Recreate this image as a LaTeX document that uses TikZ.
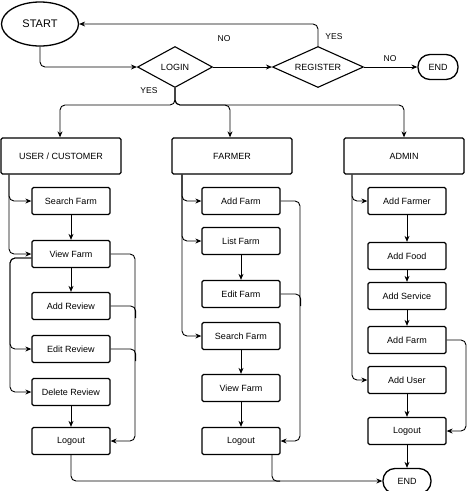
\documentclass[tikz,border=0pt]{standalone}
\usepackage{fontspec}
\setmainfont{Liberation Sans}
\usetikzlibrary{shapes.geometric, positioning, arrows.meta}

\begin{document}
\begin{tikzpicture}[
    x=1pt, y=-1pt,
    font=\fontsize{9}{10}\selectfont,
    terminal/.style={
        ellipse,
        draw,
        line width=1.3pt,
        minimum width=77pt,
        minimum height=44pt,
        inner sep=0pt,
        font=\fontsize{11}{12}\selectfont
    },
    endbox/.style={
        rectangle,
        rounded corners=12pt,
        draw,
        line width=1.3pt,
        minimum width=48pt,
        minimum height=25pt
    },
    decision/.style={
        diamond,
        draw,
        line width=1.1pt,
        shape aspect=2.2,
        minimum height=41pt,
        inner sep=0pt
    },
    role/.style={
        rectangle,
        rounded corners=1.5pt,
        draw,
        line width=1.3pt,
        minimum width=120pt,
        minimum height=36pt
    },
    task/.style={
        rectangle,
        rounded corners=1.5pt,
        draw,
        line width=1.3pt,
        minimum width=78pt,
        minimum height=27pt
    },
    lbl/.style={font=\fontsize{8.5}{9}\selectfont},
    link/.style={
        line width=0.9pt,
        rounded corners=5pt
    },
    flow/.style={
        link,
        -{Stealth[length=6pt,width=5pt]}
    }
]

\useasboundingbox (0,0) rectangle (474,491);

% ========== TOP ==========

\node[terminal] (start) at (40, 24) {START};
\node[decision, minimum width=75pt] (login) at (175, 67) {LOGIN};
\node[decision, minimum width=91pt] (register) at (318, 67) {REGISTER};
\node[endbox, minimum width=40pt] (endtop) at (438, 67) {END};

% ========== ROLES ==========

\node[role] (user) at (61, 156) {USER / CUSTOMER};
\node[role] (farmer) at (232, 156) {FARMER};
\node[role] (admin) at (404, 156) {ADMIN};

% ========== USER / CUSTOMER SECTION ==========

\node[task] (searchu) at (71, 201) {Search Farm};
\node[task] (viewu) at (71, 254) {View Farm};
\node[task] (addrev) at (71, 306) {Add Review};
\node[task] (editrev) at (71, 349) {Edit Review};
\node[task] (delrev) at (71, 392) {Delete Review};
\node[task] (logoutu) at (71, 441) {Logout};

% ========== FARMER SECTION ==========

\node[task] (addfarm) at (241, 201) {Add Farm};
\node[task] (listfarm) at (241, 241) {List Farm};
\node[task] (editfarm) at (241, 294) {Edit Farm};
\node[task] (searchf) at (241, 336) {Search Farm};
\node[task] (viewf) at (241, 388) {View Farm};
\node[task] (logoutf) at (241, 441) {Logout};

% ========== ADMIN SECTION ==========

\node[task] (addfarmer) at (407, 201) {Add Farmer};
\node[task] (addfood) at (407, 256) {Add Food};
\node[task] (addservice) at (407, 296) {Add Service};
\node[task] (addfarma) at (407, 340) {Add Farm};
\node[task] (adduser) at (407, 380) {Add User};
\node[task] (logouta) at (407, 431) {Logout};

\node[endbox] (endbot) at (407, 481) {END};

% ========== BEND POINTS ==========

\coordinate (split) at (175, 105);
\coordinate (ubendL) at (10, 258);
\coordinate (ubendR) at (135, 254);
\coordinate (fbendR) at (300, 201);
\coordinate (abendR) at (466, 340);

% ========== CONNECTIONS - TOP ==========

\draw[flow] (start.south) |- (login.west);
\draw[flow] (login.east) -- (register.west);
\draw[flow] (register.north) |- (start.east);
\draw[flow] (register.east) -- (endtop.west);

\node[lbl] (nologin) at (224, 39) {NO};
\node[lbl] (yesreg) at (334, 37) {YES};
\node[lbl] (noreg) at (390, 59) {NO};
\node[lbl] (yeslogin) at (149, 91) {YES};

\draw[flow] (login.south) -- (split) -| ([xshift=-1pt]user.north);
\draw[flow] (login.south) -- (split) -| ([xshift=-2pt]farmer.north);
\draw[flow] (login.south) -- (split) -| (admin.north);

% ========== CONNECTIONS - USER / CUSTOMER ==========

\draw[flow] ([xshift=-52pt]user.south) |- (searchu.west);
\draw[flow] ([xshift=-52pt]user.south) |- (viewu.west);
\draw[flow] (searchu) -- (viewu);
\draw[flow] (viewu) -- (addrev);
\draw[flow] ([yshift=-4pt]viewu.west) -- (ubendL) |- (editrev.west);
\draw[flow] ([yshift=-4pt]viewu.west) -- (ubendL) |- (delrev.west);
\draw[flow] (delrev) -- (logoutu);
\draw[flow] (viewu.east) -- (ubendR) |- (logoutu.east);
\draw[link] (addrev.east) -| ++(25, 12);
\draw[link] (editrev.east) -| ++(25, 12);

% ========== CONNECTIONS - FARMER ==========

\draw[flow] ([xshift=-50pt]farmer.south) |- (addfarm.west);
\draw[flow] ([xshift=-50pt]farmer.south) |- (listfarm.west);
\draw[flow] ([xshift=-50pt]farmer.south) |- (searchf.west);
\draw[flow] (listfarm) -- (editfarm);
\draw[flow] (searchf) -- (viewf);
\draw[flow] (viewf) -- (logoutf);
\draw[flow] (addfarm.east) -- (fbendR) |- (logoutf.east);
\draw[link] (editfarm.east) -| ++(20, 12);

% ========== CONNECTIONS - ADMIN ==========

\draw[flow] ([xshift=-52pt]admin.south) |- (addfarmer.west);
\draw[flow] ([xshift=-52pt]admin.south) |- (adduser.west);
\draw[flow] (addfarmer) -- (addfood);
\draw[flow] (addfood) -- (addservice);
\draw[flow] (addservice) -- (addfarma);
\draw[flow] (adduser) -- (logouta);
\draw[flow] (addfarma.east) -- (abendR) |- (logouta.east);
\draw[flow] (logouta) -- (endbot);

% ========== CONNECTIONS - LOGOUT TO END ==========

\draw[flow] (logoutu.south) |- (endbot.west);
\draw[link] ([xshift=31pt]logoutf.south) |- ++(8, 26);

\end{tikzpicture}
\end{document}
